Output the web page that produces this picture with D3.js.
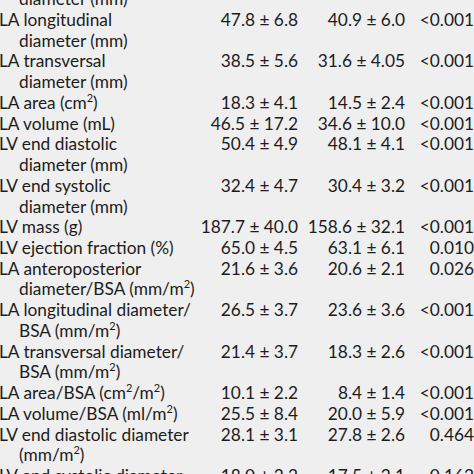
<!DOCTYPE html>
<html><head><meta charset="utf-8">
<script src="https://cdn.jsdelivr.net/npm/d3@7"></script>
<style>body{margin:0;background:#efefef}</style></head>
<body><svg id="c" width="474" height="474"></svg>
<script>
// Each row: label lines (^2 marks a superscript 2); first row is a continuation line
const labels = [
  ["diameter (mm)"],
  ["LA longitudinal", "diameter (mm)"],
  ["LA transversal", "diameter (mm)"],
  ["LA area (cm^2)"],
  ["LA volume (mL)"],
  ["LV end diastolic", "diameter (mm)"],
  ["LV end systolic", "diameter (mm)"],
  ["LV mass (g)"],
  ["LV ejection fraction (%)"],
  ["LA anteroposterior", "diameter/BSA (mm/m^2)"],
  ["LA longitudinal diameter/", "BSA (mm/m^2)"],
  ["LA transversal diameter/", "BSA (mm/m^2)"],
  ["LA area/BSA (cm^2/m^2)"],
  ["LA volume/BSA (ml/m^2)"],
  ["LV end diastolic diameter", "(mm/m^2)"],
  ["LV end systolic diameter"]
];
const g1 = ["", "47.8 ± 6.8","38.5 ± 5.6","18.3 ± 4.1","46.5 ± 17.2","50.4 ± 4.9","32.4 ± 4.7","187.7 ± 40.0","65.0 ± 4.5","21.6 ± 3.6","26.5 ± 3.7","21.4 ± 3.7","10.1 ± 2.2","25.5 ± 8.4","28.1 ± 3.1","18.0 ± 2.2"];
const g2 = ["", "40.9 ± 6.0","31.6 ± 4.05","14.5 ± 2.4","34.6 ± 10.0","48.1 ± 4.1","30.4 ± 3.2","158.6 ± 32.1","63.1 ± 6.1","20.6 ± 2.1","23.6 ± 3.6","18.3 ± 2.6","8.4 ± 1.4","20.0 ± 5.9","27.8 ± 2.6","17.5 ± 2.1"];
const pv = ["", "<0.001","<0.001","<0.001","<0.001","<0.001","<0.001","<0.001","0.010","0.026","<0.001","<0.001","<0.001","<0.001","0.464","0.162"];

const svg = d3.select("#c");
const lines = [];
labels.forEach((ls, r) => ls.forEach((t, k) => lines.push({r, k, t, indent: k > 0 || r === 0})));
const y = d3.scaleLinear().domain([1, lines.length - 1]).range([20, 476]);
const font = "Lato, 'Open Sans', sans-serif";
const colX = {g1: 298, g2: 405, p: 474};

function addRich(sel, str) {
  let pending = 0;
  str.split(/(\^2)/).forEach(part => {
    if (part === "^2") { sel.append("tspan").attr("dy", -7 + pending).attr("font-size", 11).text("2"); pending = 7; }
    else if (part) { sel.append("tspan").attr("dy", pending).text(part); pending = 0; }
  });
}
const g = svg.append("g").attr("font-family", font).attr("font-size", 17.3).attr("fill", "#1c1c1c");
lines.forEach((l, i) => {
  const yy = y(i) + 6;
  const t = g.append("text").attr("x", l.indent ? 19 : -1).attr("y", yy);
  addRich(t, l.t);
  if (l.k === 0 && l.r > 0) {
    [["g1", g1], ["g2", g2], ["p", pv]].forEach(([c, arr]) => {
      g.append("text").attr("x", colX[c]).attr("y", yy)
        .attr("text-anchor", "end").text(arr[l.r]);
    });
  }
});
</script></body></html>
